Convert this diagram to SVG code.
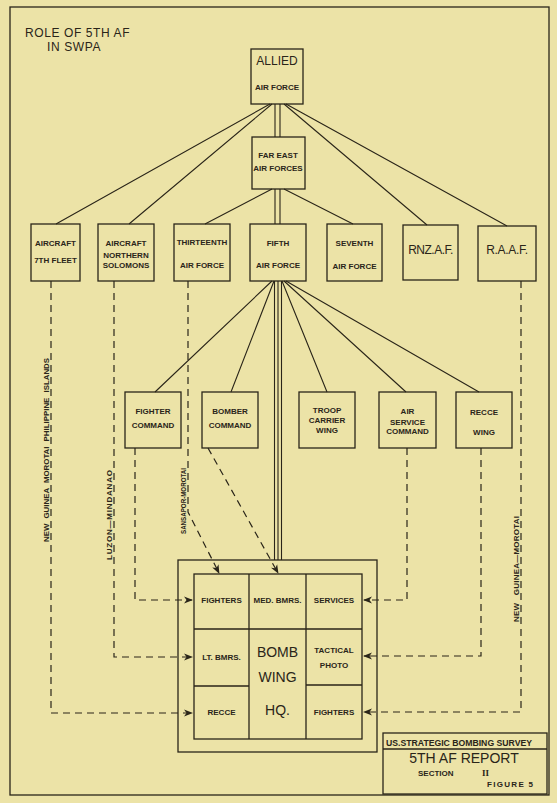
<svg xmlns="http://www.w3.org/2000/svg" width="557" height="803" viewBox="0 0 557 803">
<defs>
<style>
.bx{fill:none;stroke:#2a2519;stroke-width:1.3}
.ln{fill:none;stroke:#2a2519;stroke-width:1.1}
.ds{fill:none;stroke:#2a2519;stroke-width:1.2;stroke-dasharray:7 5}
.t{font-family:"Liberation Sans",Arial,sans-serif;font-weight:bold;font-size:8px;fill:#2a2519;text-anchor:middle}
.tr{font-family:"Liberation Sans",Arial,sans-serif;font-size:12px;fill:#2a2519;text-anchor:middle}
.tl{font-family:"Liberation Sans",Arial,sans-serif;font-weight:bold;font-size:8px;fill:#2a2519;text-anchor:middle}
</style>
<marker id="ar" viewBox="0 0 9 8" refX="8" refY="4" markerWidth="9" markerHeight="8" markerUnits="userSpaceOnUse" orient="auto">
<path d="M0,0.5 L9,4 L0,7.5 L2.5,4 z" fill="#2a2519"/>
</marker>
</defs>
<rect width="557" height="803" fill="#ece3a7"/>
<rect x="10" y="7" width="539" height="788" class="bx"/>
<g id="title">
<text x="25" y="37" font-family="Liberation Sans, Arial, sans-serif" font-size="12" letter-spacing="0.6" fill="#2a2519">ROLE OF 5TH AF</text>
<text x="47" y="51" font-family="Liberation Sans, Arial, sans-serif" font-size="12" letter-spacing="0.6" fill="#2a2519">IN SWPA</text>
</g>
<g id="connectors">
<path class="ln" d="M270,104 L56,224 M272,104 L129,224 M284,104 L427,225 M286,104 L507,226"/>
<path class="ln" d="M275,104 V137 M280,104 V137"/>
<path class="ln" d="M272,189 L205,224 M284,189 L353,224"/>
<path class="ln" d="M275,189 V224 M280,189 V224"/>
<path class="ln" d="M272,281 L155,392 M274,281 L231,392 M282,281 L327,392 M284,281 L406,392 M286,281 L479,392"/>
<path class="ln" d="M274.5,281 V560 M278,281 V560 M281.5,281 V560"/>
<path class="ds" d="M51,281 V713 H192" marker-end="url(#ar)"/>
<path class="ds" d="M114,281 V657 H192" marker-end="url(#ar)"/>
<path class="ds" d="M135,448 V600 H192" marker-end="url(#ar)"/>
<path class="ds" d="M188,281 V512 L219,573" marker-end="url(#ar)"/>
<path class="ds" d="M208,448 L278,573" marker-end="url(#ar)"/>
<path class="ds" d="M407,448 V600 H364" marker-end="url(#ar)"/>
<path class="ds" d="M481,448 V656 H364" marker-end="url(#ar)"/>
<path class="ds" d="M521,281 V712 H364" marker-end="url(#ar)"/>
<text class="tl" transform="translate(49,450) rotate(-90)" textLength="184" lengthAdjust="spacingAndGlyphs" word-spacing="3">NEW GUINEA MOROTAI PHILIPPINE ISLANDS</text>
<text class="tl" transform="translate(112,515) rotate(-90)" textLength="90" lengthAdjust="spacing">LUZON—MINDANAO</text>
<text class="tl" transform="translate(186,501) rotate(-90)" textLength="66" lengthAdjust="spacingAndGlyphs">SANSAPOR-MOROTAI</text>
<text class="tl" transform="translate(519,569) rotate(-90)" textLength="106" lengthAdjust="spacing" word-spacing="5">NEW GUINEA—MOROTAI</text>
</g>
<g id="allied">
<rect x="251" y="49" width="52" height="55" class="bx"/>
<text x="277" y="65" font-family="Liberation Sans, Arial, sans-serif" font-size="12" fill="#2a2519" text-anchor="middle">ALLIED</text>
<text class="t" x="277" y="90">AIR FORCE</text>
</g>
<g id="fareast">
<rect x="252" y="137" width="53" height="52" class="bx"/>
<text class="t" x="278" y="158">FAR EAST</text>
<text class="t" x="278" y="171">AIR FORCES</text>
</g>
<g id="n7fleet">
<rect x="31" y="224" width="49" height="57" class="bx"/>
<text class="t" x="55.5" y="246">AIRCRAFT</text>
<text class="t" x="55.5" y="263">7TH FLEET</text>
</g>
<g id="nsolomons">
<rect x="98" y="224" width="56" height="57" class="bx"/>
<text class="t" x="126" y="246">AIRCRAFT</text>
<text class="t" x="126" y="258">NORTHERN</text>
<text class="t" x="126" y="268">SOLOMONS</text>
</g>
<g id="thirteenth">
<rect x="174" y="224" width="56" height="57" class="bx"/>
<text class="t" x="202" y="245">THIRTEENTH</text>
<text class="t" x="202" y="268">AIR FORCE</text>
</g>
<g id="fifth">
<rect x="250" y="224" width="56" height="57" class="bx"/>
<text class="t" x="278" y="246">FIFTH</text>
<text class="t" x="278" y="268">AIR FORCE</text>
</g>
<g id="seventh">
<rect x="327" y="224" width="55" height="57" class="bx"/>
<text class="t" x="354.5" y="246">SEVENTH</text>
<text class="t" x="354.5" y="269">AIR FORCE</text>
</g>
<g id="rnzaf">
<rect x="403" y="225" width="55" height="55" class="bx"/>
<text class="tr" x="430.5" y="254" letter-spacing="-0.5">RNZ.A.F.</text>
</g>
<g id="raaf">
<rect x="478" y="226" width="58" height="55" class="bx"/>
<text class="tr" x="507" y="254" letter-spacing="-0.3">R.A.A.F.</text>
</g>
<g id="fighter">
<rect x="125" y="392" width="56" height="56" class="bx"/>
<text class="t" x="153" y="414">FIGHTER</text>
<text class="t" x="153" y="428">COMMAND</text>
</g>
<g id="bomber">
<rect x="202" y="392" width="56" height="56" class="bx"/>
<text class="t" x="230" y="414">BOMBER</text>
<text class="t" x="230" y="428">COMMAND</text>
</g>
<g id="troop">
<rect x="299" y="392" width="56" height="56" class="bx"/>
<text class="t" x="327" y="413">TROOP</text>
<text class="t" x="327" y="423">CARRIER</text>
<text class="t" x="327" y="433">WING</text>
</g>
<g id="airservice">
<rect x="379" y="392" width="57" height="56" class="bx"/>
<text class="t" x="407.5" y="414">AIR</text>
<text class="t" x="407.5" y="425">SERVICE</text>
<text class="t" x="407.5" y="434">COMMAND</text>
</g>
<g id="reccewing">
<rect x="456" y="392" width="56" height="56" class="bx"/>
<text class="t" x="484" y="415">RECCE</text>
<text class="t" x="484" y="435">WING</text>
</g>
<g id="bombwing">
<rect x="178" y="560" width="199" height="192" class="bx"/>
<rect x="194" y="574" width="168" height="165" class="bx"/>
<path class="bx" d="M249,574 V739 M306,574 V739 M194,629 H362 M194,686 H249 M306,685 H362"/>
<text class="t" x="221.5" y="603">FIGHTERS</text>
<text class="t" x="277.5" y="603">MED. BMRS.</text>
<text class="t" x="334" y="603">SERVICES</text>
<text class="t" x="221.5" y="660">LT. BMRS.</text>
<text class="t" x="334" y="653">TACTICAL</text>
<text class="t" x="334" y="668">PHOTO</text>
<text class="t" x="221.5" y="715">RECCE</text>
<text class="t" x="334" y="715">FIGHTERS</text>
<text x="277.5" y="657" font-family="Liberation Sans, Arial, sans-serif" font-size="14" fill="#2a2519" text-anchor="middle">BOMB</text>
<text x="277.5" y="682" font-family="Liberation Sans, Arial, sans-serif" font-size="14" fill="#2a2519" text-anchor="middle">WING</text>
<text x="277.5" y="715" font-family="Liberation Sans, Arial, sans-serif" font-size="14" fill="#2a2519" text-anchor="middle">HQ.</text>
</g>
<g id="titleblock">
<rect x="383" y="733" width="164" height="61" class="bx"/>
<path class="bx" d="M383,749 H547"/>
<text x="386" y="746" font-family="Liberation Sans, Arial, sans-serif" font-weight="bold" font-size="8.5" fill="#2a2519" textLength="146" lengthAdjust="spacingAndGlyphs">US.STRATEGIC BOMBING SURVEY</text>
<text x="464" y="763" font-family="Liberation Sans, Arial, sans-serif" font-size="14" fill="#2a2519" text-anchor="middle">5TH AF REPORT</text>
<text x="418" y="776" font-family="Liberation Sans, Arial, sans-serif" font-weight="bold" font-size="8" fill="#2a2519">SECTION</text>
<text x="482" y="776" font-family="Liberation Serif, serif" font-weight="bold" font-size="9" fill="#2a2519">II</text>
<text x="487" y="787" font-family="Liberation Sans, Arial, sans-serif" font-weight="bold" font-size="8" fill="#2a2519" textLength="46" lengthAdjust="spacing">FIGURE  5</text>
</g>
</svg>
